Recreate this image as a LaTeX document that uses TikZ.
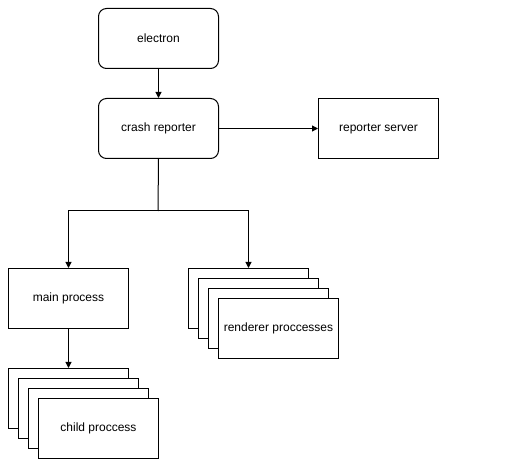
\documentclass[tikz,border=0pt]{standalone}
\usepackage{fontspec}
\setmainfont{Liberation Sans}
\usetikzlibrary{arrows.meta}
\begin{document}
\begin{tikzpicture}[x=1pt,y=-1pt,
  box/.style={draw=black,line width=1pt,fill=white,minimum width=120pt,minimum height=60pt,inner sep=0pt,font=\fontsize{12}{14}\selectfont,anchor=north west},
  rbox/.style={box,rounded corners=8pt},
  conn/.style={draw=black,line width=1pt,-{Triangle[length=6pt,width=6pt]}},
  seg/.style={draw=black,line width=1pt}]
\useasboundingbox (0,0) rectangle (515,473);
\node[rbox] (electron) at (98,8) {electron};
\node[rbox] (crash) at (98,98) {crash reporter};
\node[box] (server) at (318,98) {reporter server};
\node[box] (main) at (8,268) {main process};
\node[box] (r1) at (188,268) {};
\node[box] (r2) at (198,278) {};
\node[box] (r3) at (208,288) {};
\node[box] (r4) at (218,298) {renderer proccesses};
\node[box] (c1) at (8,368) {};
\node[box] (c2) at (18,378) {};
\node[box] (c3) at (28,388) {};
\node[box] (c4) at (38,398) {child proccess};
\coordinate (split) at (158,211);
\draw[conn] (electron) -- (crash);
\draw[conn] (crash) -- (server);
\draw[seg] (crash.south) -- (split);
\draw[conn] (split) -| (main.north);
\draw[conn] (split) -| (r1.north);
\draw[conn] (main) -- (c1);
\end{tikzpicture}
\end{document}
